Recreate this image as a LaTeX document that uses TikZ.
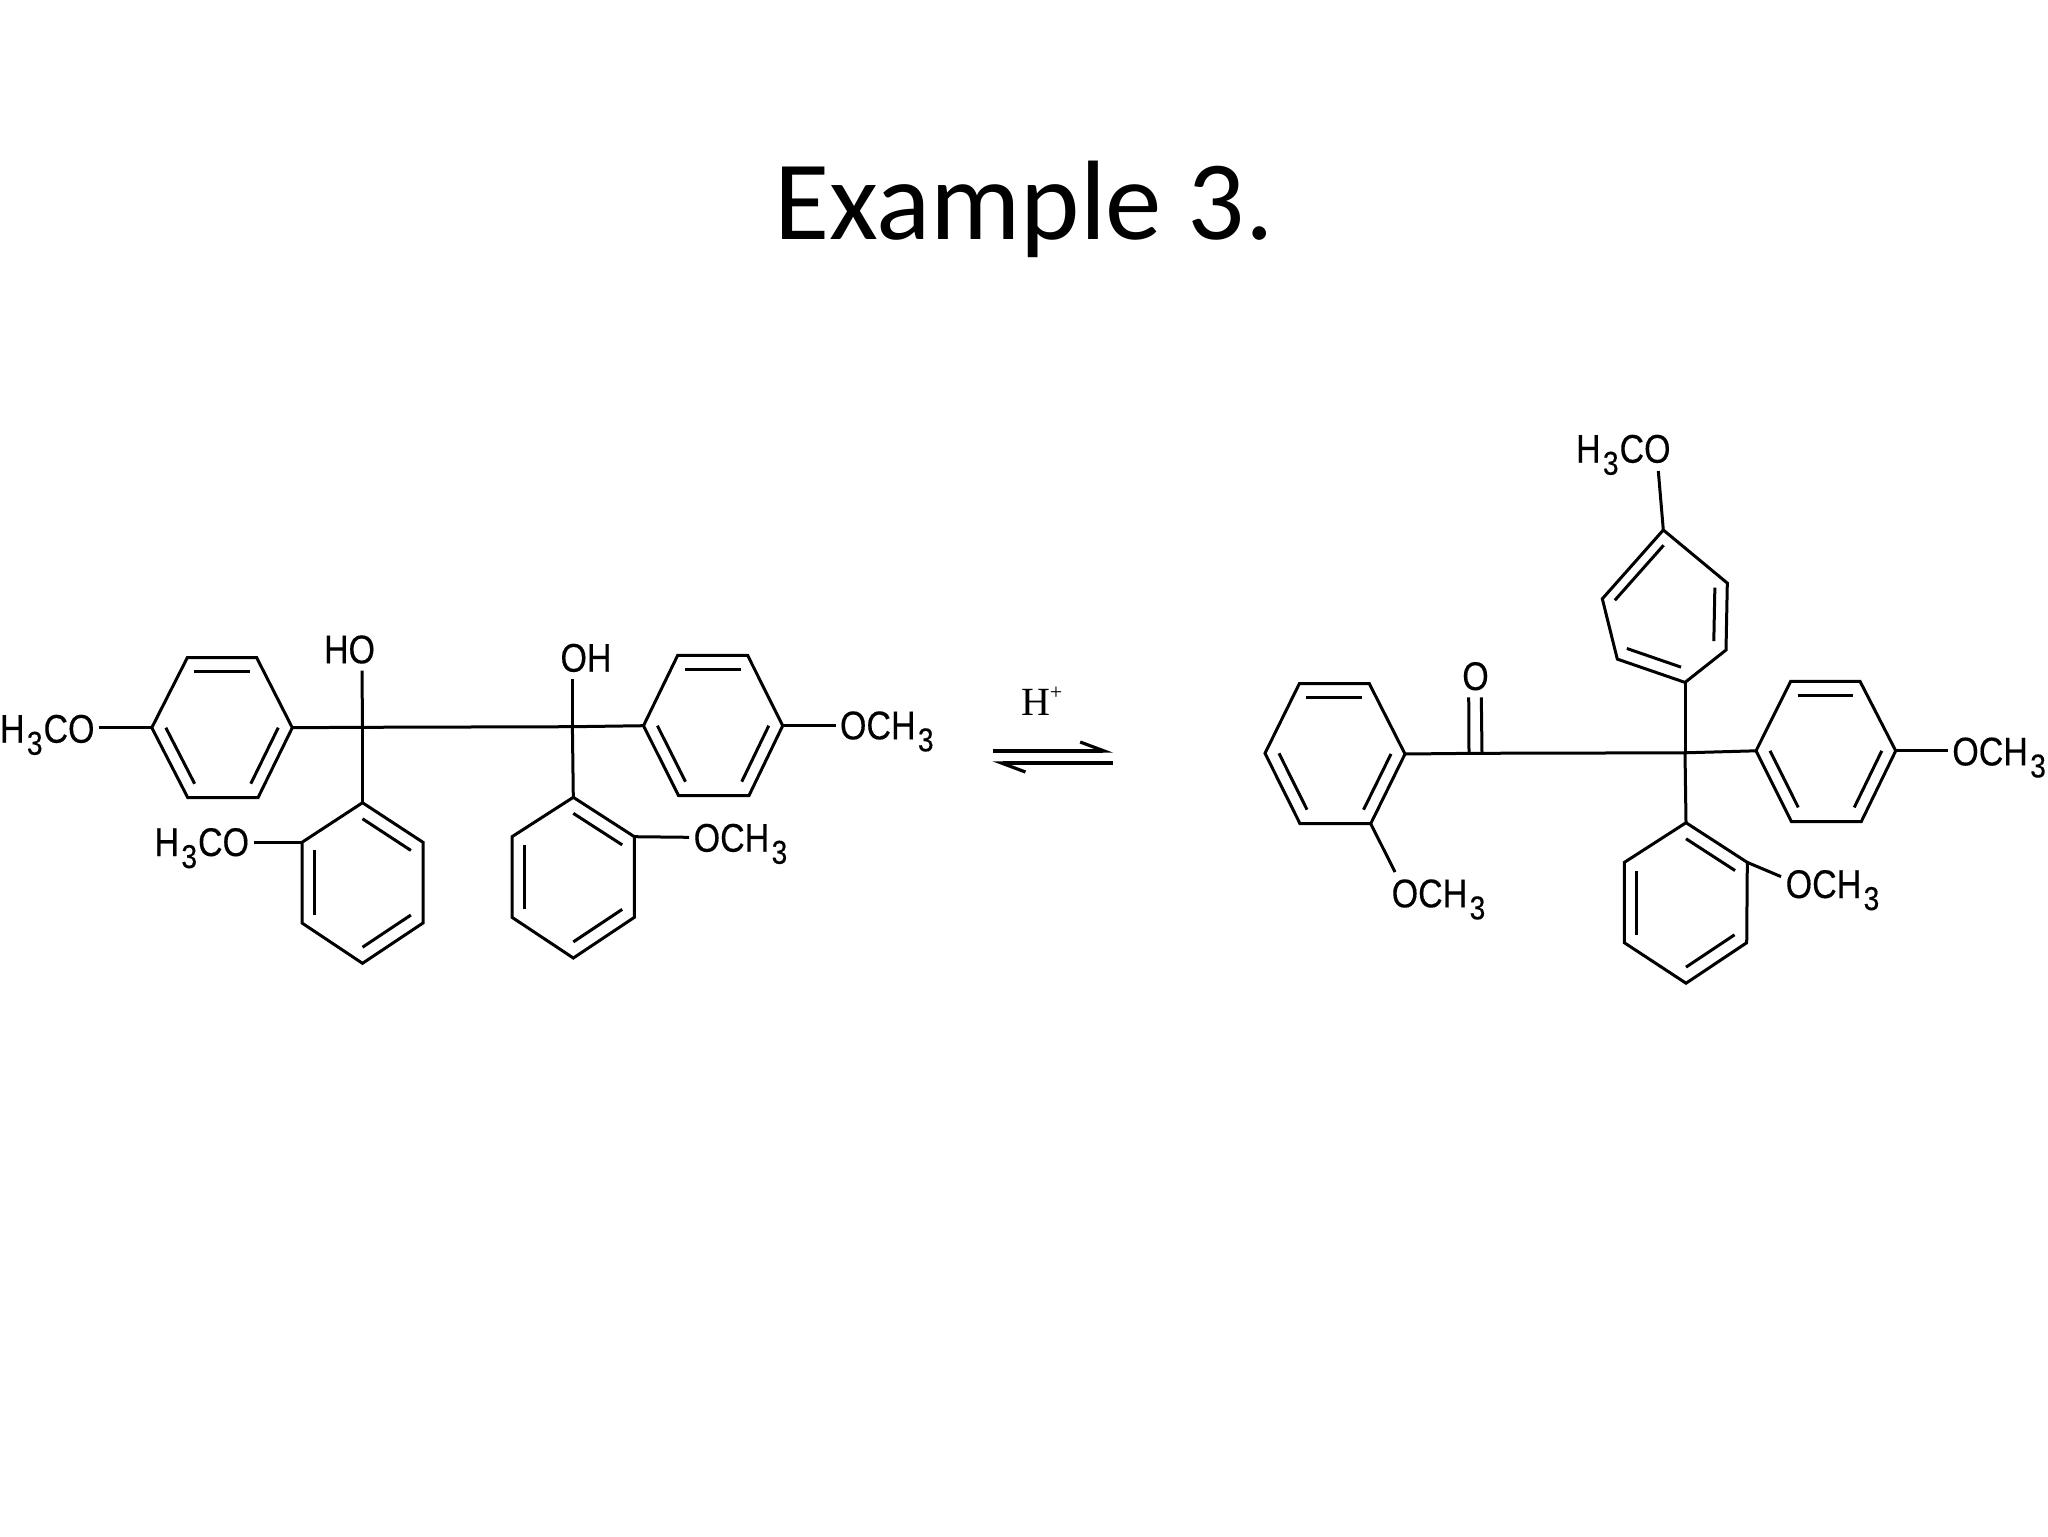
\documentclass[tikz,border=0pt]{standalone}
\usepackage{fontspec}
\usetikzlibrary{arrows.meta,calc}
\setmainfont{Liberation Sans}
\newfontfamily\titlefont{Carlito}
\newfontfamily\chemfont[FakeStretch=0.85,FakeBold=0.25]{Liberation Sans}
\newfontfamily\catfont{Liberation Serif}
\newcommand{\subthree}{\hspace{1.2pt}\raisebox{-6pt}{\fontsize{16.5}{17}\selectfont 3}}
\newcommand{\innerbond}[3]{\draw[bond] ($(#1)!.2!(#3)$) -- ($(#2)!.2!(#3)$);}
\tikzset{
  base/.style={inner sep=0pt,outer sep=0mm},
  bond/.style={line width=1.5pt, line join=miter, color=black},
  label/.style={base, anchor=base west, font=\chemfont\fontsize{20}{20}\selectfont},
  clabel/.style={base, anchor=base, font=\chemfont\fontsize{20}{20}\selectfont},
  eqarrow/.style={line width=1.6pt, -{Straight Barb[left,length=12pt,width=9pt]}}
}

\begin{document}
\begin{tikzpicture}[x=0.5pt,y=-0.5pt]
  \useasboundingbox (0,0) rectangle (2048,1536);

  \node[base, anchor=base, font=\titlefont\fontsize{56.5}{60}\selectfont] (title) at (1024,239) {Example 3.};

  \foreach \n/\x/\y in {a1/151.8/727.7, a2/187.3/657.7, a3/256.7/657.7, a4/292.3/727.7, a5/258/797.7, a6/187.8/797.7, ac/222/727.7,
      b1/362.5/802.7, b2/423/842.3, b3/423/923, b4/362.5/963.3, b5/302/923, b6/302/842.3, bc/362.5/883,
      c1/573.3/797.3, c2/634.4/836.7, c3/634.4/917.3, c4/573.3/958, c5/512/917.3, c6/512/836.7, cc/573.3/877.5,
      d1/643.5/725.7, d2/677.7/655.3, d3/747.6/655.3, d4/782.7/725.7, d5/748.9/795.7, d6/678.6/795.7, dc/713/725.7,
      e1/1265/753.3, e2/1299.3/683.7, e3/1369.3/683.7, e4/1405/754, e5/1370.7/823.7, e6/1300/823.7, ec/1335/753.5,
      f1/1663.3/530, f2/1727.3/583.1, f3/1726/650, f4/1685/682.4, f5/1617.3/659.1, f6/1602.3/598.8, fc/1665/606,
      g1/1756/750.8, g2/1790.7/681.3, g3/1860/681.3, g4/1895.7/750.8, g5/1861.3/821.5, g6/1791.3/821.5, gc/1826/751,
      h1/1686/822.7, h2/1747.3/862.4, h3/1746.7/942.7, h4/1686/983.2, h5/1624.3/942.7, h6/1624.3/862.4, hc/1686/903}
    \coordinate (\n) at (\x,\y);

  \coordinate (cl) at (362.5,727.3);
  \coordinate (cr) at (572.4,726.7);
  \coordinate (co) at (1475,753.3);
  \coordinate (cq) at (1685,752.8);

  \foreach \r in {a,b,c,d,e,f,g,h}
    \draw[bond] (\r1) -- (\r2) -- (\r3) -- (\r4) -- (\r5) -- (\r6) -- cycle;

  \innerbond{a2}{a3}{ac} \innerbond{a4}{a5}{ac} \innerbond{a6}{a1}{ac}
  \innerbond{b1}{b2}{bc} \innerbond{b3}{b4}{bc} \innerbond{b5}{b6}{bc}
  \innerbond{c1}{c2}{cc} \innerbond{c3}{c4}{cc} \innerbond{c5}{c6}{cc}
  \innerbond{d2}{d3}{dc} \innerbond{d4}{d5}{dc} \innerbond{d6}{d1}{dc}
  \innerbond{e2}{e3}{ec} \innerbond{e4}{e5}{ec} \innerbond{e6}{e1}{ec}
  \innerbond{f1}{f6}{fc} \innerbond{f2}{f3}{fc} \innerbond{f4}{f5}{fc}
  \innerbond{g2}{g3}{gc} \innerbond{g4}{g5}{gc} \innerbond{g6}{g1}{gc}
  \innerbond{h1}{h2}{hc} \innerbond{h3}{h4}{hc} \innerbond{h5}{h6}{hc}

  \node[label] (methA) at (0,742.7) {H\subthree\hspace{0.5pt}CO};
  \node[label] (methB) at (154.5,856) {H\subthree\hspace{0.5pt}CO};
  \node[label] (methF) at (1576,462.7) {H\subthree\hspace{0.5pt}CO};
  \node[label] (methD) at (840,739.3) {OCH\subthree};
  \node[label] (methC) at (693.7,851.7) {OCH\subthree};
  \node[label] (methE) at (1391.7,907.3) {OCH\subthree};
  \node[label] (methG) at (1952.3,765.4) {OCH\subthree};
  \node[label] (methH) at (1785.7,898) {OCH\subthree};
  \node[clabel] (hoL) at (349.5,663.3) {HO};
  \node[clabel] (hoR) at (586,671.7) {OH};
  \node[clabel] (oxo) at (1475.5,690) {O};
  \node[base, anchor=base west, font=\catfont\fontsize{20}{20}\selectfont] (cat) at (1021,715) {H\raisebox{8pt}{\fontsize{11}{11}\selectfont +}};

  \coordinate (endA) at (99,727.7);
  \coordinate (endB) at (253.7,842.3);
  \coordinate (endC) at (689,837.3);
  \coordinate (endD) at (835.6,725.7);
  \coordinate (endE) at (1395,872);
  \coordinate (endF) at (1658.3,471);
  \coordinate (endG) at (1948.3,750.8);
  \coordinate (endH) at (1781,876.6);
  \coordinate (endHoL) at (362,670.7);
  \coordinate (endHoR) at (572.4,678.7);

  \draw[bond] (a4) -- (cl);
  \draw[bond] (cl) -- (cr);
  \draw[bond] (cr) -- (d1);
  \draw[bond] (cl) -- (b1);
  \draw[bond] (cr) -- (c1);
  \draw[bond] (cl) -- (endHoL);
  \draw[bond] (cr) -- (endHoR);
  \draw[bond] (a1) -- (endA);
  \draw[bond] (b6) -- (endB);
  \draw[bond] (c2) -- (endC);
  \draw[bond] (d4) -- (endD);
  \draw[bond] (e4) -- (co);
  \draw[bond] (co) -- (cq);
  \draw[bond] (cq) -- (g1);
  \draw[bond] (cq) -- (f4);
  \draw[bond] (cq) -- (h1);
  \draw[bond] (e5) -- (endE);
  \draw[bond] (f1) -- (endF);
  \draw[bond] (g4) -- (endG);
  \draw[bond] (h2) -- (endH);

  \coordinate (oxoA) at (1468.7,697.3);
  \coordinate (oxoB) at (1481.3,697.3);
  \coordinate (oxoC) at (1469,753.3);
  \coordinate (oxoD) at (1482,753.3);
  \draw[bond] (oxoA) -- (oxoC);
  \draw[bond] (oxoB) -- (oxoD);

  \coordinate (eqTl) at (992.6,751);
  \coordinate (eqTr) at (1113,751);
  \coordinate (eqBl) at (992.6,763);
  \coordinate (eqBr) at (1113,763);
  \draw[eqarrow] (eqTl) -- (eqTr);
  \draw[eqarrow] (eqBr) -- (eqBl);
\end{tikzpicture}
\end{document}
